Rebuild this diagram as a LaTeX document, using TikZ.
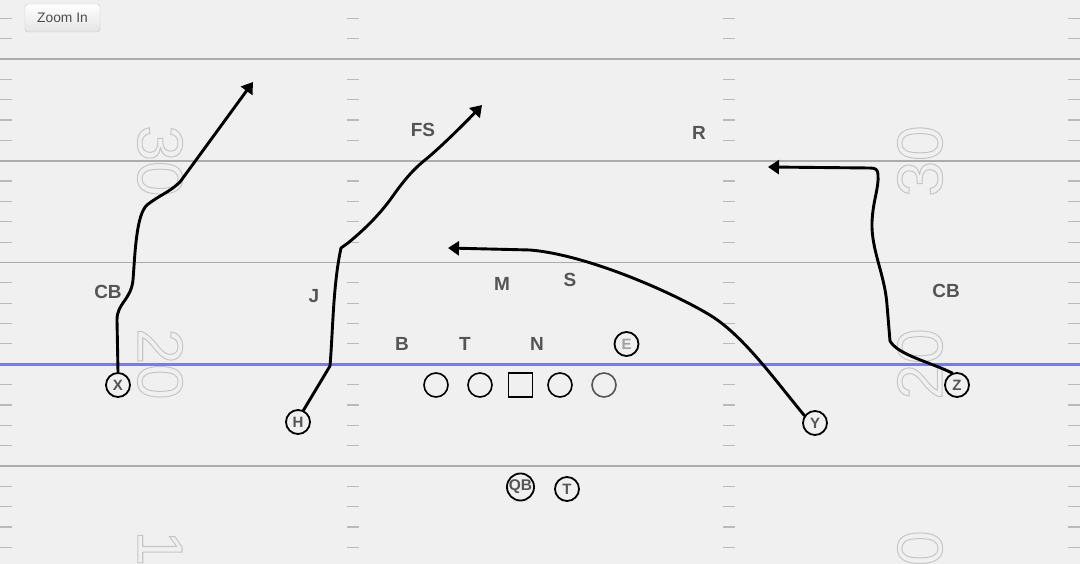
\documentclass[tikz,border=0pt]{standalone}
\usepackage{fontspec}
\setmainfont{Liberation Sans}
\usetikzlibrary{arrows.meta}
\definecolor{bgcol}{RGB}{240,240,240}
\definecolor{yardcol}{RGB}{172,172,172}
\definecolor{hashcol}{RGB}{186,186,186}
\definecolor{losblue}{RGB}{122,122,240}
\definecolor{numcol}{RGB}{198,198,198}
\definecolor{labgray}{RGB}{85,85,85}
\definecolor{btnborder}{RGB}{196,196,196}
\definecolor{btnbottom}{RGB}{228,228,228}
\newcommand\contorno[1]{\special{pdf:literal direct 1 Tr 1 w}#1\special{pdf:literal direct 0 Tr}}
\begin{document}
\begin{tikzpicture}[x=1pt,y=-1pt,font=\bfseries\fontsize{19}{19}\selectfont,
  player/.style={circle,draw=black,line width=1.8pt,minimum size=24pt,inner sep=0pt,text=labgray,font=\bfseries\fontsize{15}{15}\selectfont},
  lineman/.style={circle,draw=black,line width=1.6pt,minimum size=24pt,inner sep=0pt},
  defender/.style={text=labgray,inner sep=0pt},
  yardnum/.style={text=numcol,inner sep=0pt,font=\fontsize{64}{64}\selectfont},
  route/.style={line width=2.9pt,line cap=round,line join=round,-{Triangle[length=11pt,width=14pt]}}]
  \useasboundingbox (0,0) rectangle (1080,564);
  \fill[bgcol] (0,0) rectangle (1080,564);% sfondo del campo
  \foreach \k in {0,...,4} \draw[yardcol,line width=1.8pt] (0,{59+101.75*\k}) -- (1080,{59+101.75*\k});% linee delle yard
  \foreach \i in {0,...,26}{
    \pgfmathtruncatemacro\r{mod(\i,5)}
    \ifnum\r=2\else
      \foreach \x in {0,347,723,1068} \draw[hashcol,line width=1.2pt] (\x,{18.3+20.35*\i}) -- ++(12,0);
    \fi}% tacche
  \draw[losblue,line width=2.8pt] (0,364.25) -- (1080,364.25);% linea di scrimmage
  \begin{scope}
    \clip (0,0) rectangle (1080,564);
    \node[yardnum,rotate=-90] (n30l) at (160,161) {\contorno{30}};
    \node[yardnum,rotate=-90] (n20l) at (160,364) {\contorno{20}};
    \node[yardnum,rotate=-90] (n10l) at (160,566) {\contorno{10}};
    \node[yardnum,rotate=90] (n30r) at (920,161) {\contorno{30}};
    \node[yardnum,rotate=90] (n20r) at (920,364) {\contorno{20}};
    \node[yardnum,rotate=90] (n10r) at (920,566) {\contorno{10}};
  \end{scope}
  \node[draw=btnborder,rounded corners=3pt,top color=white,bottom color=btnbottom,minimum width=75pt,minimum height=28pt,inner sep=0pt,text=labgray!90!black,font=\fontsize{13.8}{13.8}\selectfont] (zoom) at (62.5,18) {Zoom In};
  % difesa
  \node[defender] (cbl) at (108,292) {CB};
  \node[defender] (jj) at (314,296) {J};
  \node[defender] (fs) at (423,130) {FS};
  \node[defender] (rr) at (699,133) {R};
  \node[defender] (mm) at (502,284) {M};
  \node[defender] (ss) at (570,280) {S};
  \node[defender] (bb) at (402,344) {B};
  \node[defender] (tt) at (465,344) {T};
  \node[defender] (nn) at (537,344) {N};
  \node[defender] (cbr) at (946,291) {CB};
  % attacco
  \node[lineman] (lt) at (436,385) {};
  \node[lineman] (lg) at (480,385) {};
  \node[lineman,rectangle,minimum size=24pt] (c) at (520.5,385) {};
  \node[lineman] (rg) at (560,385) {};
  \node[lineman,draw=labgray] (rt) at (604,385) {};
  \node[player,text=labgray!55] (e) at (626.5,344) {E};
  \node[player] (x) at (118,385) {X};
  \node[player] (h) at (298,422) {H};
  \node[player] (y) at (815,423) {Y};
  \node[player] (z) at (957,385) {Z};
  \node[player,font=\bfseries\fontsize{15.5}{15.5}\selectfont] (qb) at (520.5,487) {QB};
  \node[player] (tb) at (567,489) {T};
  % tracce
  \coordinate (xend) at (253,82);
  \coordinate (hend) at (482,105);
  \coordinate (yend) at (448,248);
  \coordinate (zend) at (768,167);
  \draw[route] (x.north) -- (117,320) .. controls (117,303) and (131,300) .. (133,280) .. controls (135,255) and (136,215) .. (147,205) .. controls (158,196) and (170,192) .. (180,182) -- (xend);
  \draw[route] (h.65) -- (330,366) .. controls (333,330) and (333,285) .. (341,248) -- (348,243) .. controls (360,233) and (375,220) .. (390,200) .. controls (400,186) and (410,172) .. (425,160) .. controls (440,148) and (468,120) .. (hend);
  \draw[route] (y.145) .. controls (775,380) and (745,338) .. (713,317) .. controls (680,296) and (590,255) .. (530,250) -- (yend);
  \draw[route] (z.112) .. controls (930,362) and (898,355) .. (890,341) -- (887,305) .. controls (885,275) and (871,250) .. (872,222) .. controls (873,200) and (879,188) .. (878,175) .. controls (878,170) and (876,168) .. (870,168) -- (zend);
\end{tikzpicture}
\end{document}
